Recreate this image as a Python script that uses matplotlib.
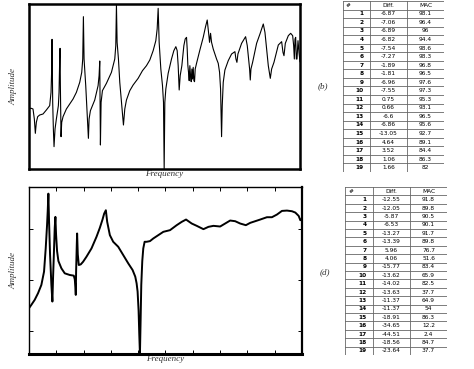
import numpy as np
import matplotlib.pyplot as plt

# panel (b): frequency response (arbitrary units)
freq_b = [88, 95, 100, 104, 107, 110, 114, 120, 130, 140, 150, 154, 156, 157, 159, 161, 163,
          166, 170, 176, 178, 180, 181, 182, 184, 186, 190, 200, 210, 220, 230, 240, 246,
          249, 251, 253, 258, 262, 266, 268, 272, 285, 295, 298, 300, 301, 302, 304, 308,
          320, 335, 345, 348, 350, 352, 356, 360, 366, 371, 375, 380, 390, 400, 415, 428,
          440, 450, 460, 468, 472, 475, 478, 483, 488, 491, 493, 495, 498, 505, 515, 522,
          528, 532, 535, 538, 541, 546, 552, 556, 560, 562, 564, 566, 568, 570, 572, 574,
          576, 578, 580, 582, 584, 586, 590, 600, 610, 617, 622, 625, 627, 629, 632, 635,
          640, 650, 655, 659, 662, 665, 667, 670, 675, 685, 695, 705, 708, 711, 714, 725,
          737, 742, 746, 749, 751, 753, 758, 770, 780, 790, 795, 800, 805, 808, 811, 815,
          822, 835, 845, 849, 852, 856, 865, 872, 878, 881, 883, 885, 887, 889, 891, 894,
          897, 900]
amp_b = [182, 182, 180, 150, 107, 140, 157, 162, 165, 177, 190, 230, 300, 389, 200, 120, 67,
         120, 150, 190, 230, 330, 362, 250, 97, 140, 157, 180, 195, 210, 230, 260, 290,
         330, 457, 330, 250, 170, 92, 150, 175, 207, 250, 280, 324, 200, 72, 200, 235,
         257, 290, 330, 370, 492, 380, 330, 260, 190, 132, 180, 207, 235, 252, 272, 295,
         310, 327, 355, 385, 420, 482, 380, 300, 250, 200, 0, 200, 240, 287, 330, 355,
         367, 355, 310, 237, 280, 310, 370, 390, 395, 360, 310, 290, 265, 310, 280, 262,
         300, 270, 305, 265, 262, 300, 317, 357, 395, 427, 447, 420, 400, 380, 407, 380,
         360, 330, 317, 290, 240, 97, 190, 260, 297, 325, 345, 352, 330, 320, 345, 377,
         397, 370, 330, 300, 267, 300, 320, 377, 405, 435, 410, 360, 310, 290, 272, 300,
         320, 372, 382, 350, 340, 377, 400, 407, 400, 370, 330, 390, 395, 330, 330, 385,
         350, 322]

# panel (d)
freq_d = [88, 95, 105, 115, 125, 133, 138, 142, 144, 146, 148, 151, 155, 158, 160, 162, 165,
          167, 169, 172, 176, 185, 195, 210, 222, 225, 227, 228, 229, 231, 232, 234, 237,
          243, 250, 260, 275, 290, 300, 308, 313, 318, 322, 330, 340, 355, 370, 385, 398,
          406, 410, 413, 416, 418, 420, 422, 424, 427, 430, 434, 440, 450, 460, 475, 490,
          510, 530, 545, 558, 565, 575, 590, 610, 625, 640, 660, 675, 690, 705, 720, 737,
          750, 765, 780, 800, 815, 830, 845, 860, 875, 885, 895, 900, 905]
amp_d = [138, 148, 163, 183, 208, 248, 318, 388, 430, 483, 400, 300, 208, 158, 230, 288, 380,
         413, 360, 310, 280, 258, 243, 238, 236, 225, 200, 178, 250, 330, 363, 300, 268,
         270, 278, 293, 318, 353, 380, 405, 423, 433, 398, 358, 338, 323, 298, 273, 253,
         233, 213, 188, 130, 60, 0, 100, 208, 280, 318, 338, 338, 340, 348, 358, 368,
         373, 388, 398, 405, 400, 393, 386, 376, 383, 386, 384, 393, 402, 400, 393, 388,
         395, 400, 405, 412, 412, 420, 431, 432, 430, 426, 416, 403, 408]

# tables
mode_no = list(range(1, 20))
diff_b = ['-6.87', '-7.06', '-6.89', '-6.82', '-7.54', '-7.27', '-1.89', '-1.81', '-6.96', '-7.55',
          '0.75', '0.66', '-6.6', '-6.86', '-13.05', '4.64', '3.52', '1.06', '1.66']
mac_b = ['98.1', '96.4', '96', '94.4', '98.6', '98.3', '96.8', '96.5', '97.6', '97.3',
         '95.3', '93.1', '96.5', '95.6', '92.7', '89.1', '84.4', '86.3', '82']
diff_d = ['-12.55', '-12.05', '-5.87', '-6.53', '-13.27', '-13.39', '5.96', '4.06', '-15.77', '-13.62',
          '-14.02', '-13.63', '-11.37', '-11.37', '-18.91', '-34.65', '-44.51', '-18.56', '-23.64']
mac_d = ['91.8', '89.8', '90.5', '90.1', '91.7', '89.8', '76.7', '51.6', '83.4', '65.9',
         '82.5', '37.7', '64.9', '54', '86.3', '12.2', '2.4', '84.7', '37.7']

W, H = 474, 369
fig = plt.figure(figsize=(W / 100, H / 100), dpi=100)
lab = dict(family='Liberation Serif', style='italic', size=6.5, color='#333333')


def px_rect(x0, y0, x1, y1):
    return [x0 / W, 1 - y1 / H, (x1 - x0) / W, (y1 - y0) / H]


# top plot
ax1 = fig.add_axes(px_rect(29, 4, 300, 169))
ax1.plot(freq_b, amp_b, color='black', lw=0.8)
ax1.set_xlim(88, 900)
ax1.set_ylim(0, 495)
ax1.set_xticks([])
ax1.set_yticks([])
for s in ax1.spines.values():
    s.set_linewidth(1.8)
ax1.set_xlabel('Frequency', labelpad=1, **lab)
ax1.set_ylabel('Amplitude', labelpad=8, **lab)
fig.text(323 / W, 1 - 86 / H, '(b)', ha='center', va='center', **lab)

# bottom plot
ax2 = fig.add_axes(px_rect(29, 187, 302, 354))
ax2.plot(freq_d, amp_d, color='black', lw=1.4)
ax2.set_xlim(88, 905)
ax2.set_ylim(0, 503)
ax2.set_xticks(np.linspace(88, 905, 11))
ax2.set_yticks([68, 223, 378])
ax2.tick_params(direction='in', length=3, width=0.7, top=True, right=True,
                labelbottom=False, labelleft=False)
for s in ax2.spines.values():
    s.set_linewidth(1.0)
ax2.spines['bottom'].set_linewidth(2.2)
ax2.spines['right'].set_linewidth(1.6)
ax2.set_xlabel('Frequency', labelpad=1, **lab)
ax2.set_ylabel('Amplitude', labelpad=8, **lab)
fig.text(325 / W, 1 - 272 / H, '(d)', ha='center', va='center', **lab)


def draw_table(rect, diffs, macs, cols):
    ax = fig.add_axes(rect)
    ax.set_xlim(0, 1)
    ax.set_ylim(20, 0)
    ax.axis('off')
    edges = np.cumsum([0] + cols)
    for x in edges:
        ax.plot([x, x], [0, 20], color='#666666', lw=0.6)
    for r in range(21):
        ax.plot([0, 1], [r, r], color='#666666', lw=0.6)
    fs = 4.2
    ax.text(0.03, 0.5, '#', ha='left', va='center', size=fs)
    ax.text((edges[1] + edges[2]) / 2, 0.5, 'Diff.', ha='center', va='center', size=fs)
    ax.text((edges[2] + edges[3]) / 2, 0.5, 'MAC', ha='center', va='center', size=fs)
    for i, n in enumerate(mode_no):
        y = i + 1.5
        ax.text(edges[1] - 0.06, y, str(n), ha='right', va='center', size=fs, weight='bold')
        ax.text((edges[1] + edges[2]) / 2, y, diffs[i], ha='center', va='center', size=fs)
        ax.text((edges[2] + edges[3]) / 2, y, macs[i], ha='center', va='center', size=fs)


draw_table(px_rect(343, 1, 444, 172), diff_b, mac_b, [0.267, 0.3665, 0.3665])
draw_table(px_rect(345, 187, 447, 355), diff_d, mac_d, [0.275, 0.3625, 0.3625])

fig.savefig('out.png', dpi=100)
